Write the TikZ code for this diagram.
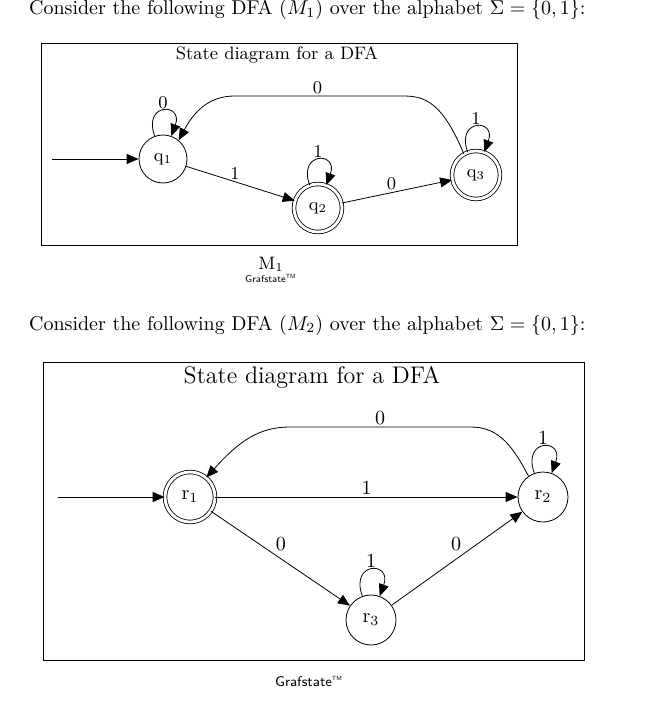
\documentclass[tikz,border=0pt]{standalone}
\usepackage{amsmath}
\usetikzlibrary{arrows.meta, positioning}

\begin{document}
\begin{tikzpicture}[x=0.5pt, y=-0.5pt,
	state/.style={circle, draw, thin, minimum size=24pt, inner sep=0pt, font=\small},
	bigstate/.style={state, minimum size=25pt, font=\normalsize},
	accept/.style={double, double distance=1.4pt},
	edge/.style={-{Triangle[length=6pt,width=5pt]}, thin},
	loopy/.style={out=110, in=70, looseness=5.5},
	lbl/.style={font=\small, inner sep=1pt},
	biglbl/.style={font=\normalsize, inner sep=1pt}]
	\useasboundingbox (0,0) rectangle (650,710);

	% first automaton
	\node[anchor=west] (text1) at (22,10) {Consider the following DFA ($M_1$) over the alphabet $\Sigma=\{0,1\}$:};
	\draw[thin] (41,43) rectangle (517,245);
	\node[font=\small] (title1) at (277,55) {State diagram for a DFA};

	\node[state] (q1) at (163,159) {$\mathrm{q}_1$};
	\node[state, accept] (q2) at (318,208) {$\mathrm{q}_2$};
	\node[state, accept] (q3) at (476,175) {$\mathrm{q}_3$};
	\coordinate (s1) at (52,159);

	\draw[edge] (s1) -- (q1);
	\draw[edge] (q1) -- node[lbl, above, pos=0.45] {1} (q2);
	\draw[edge] (q2) -- node[lbl, above, pos=0.45] {0} (q3);
	\draw[edge] (q1.110) to[loopy] node[lbl, above] {0} (q1.70);
	\draw[edge] (q2.110) to[loopy] node[lbl, above] {1} (q2.70);
	\draw[edge] (q3.110) to[loopy] node[lbl, above] {1} (q3.70);
	\draw[edge] (q3.120) .. controls (440,96) and (420,96) .. (400,96)
		-- node[lbl, above] {0} (235,96) .. controls (210,96) and (195,110) .. (q1.50);

	\node (m1) at (271,264) {\small M$_1$};
	\node[font=\tiny\sffamily] (graf1) at (271,278) {Grafstate\textsuperscript{\fontsize{3}{3}\selectfont TM}};

	% second automaton
	\node[anchor=west] (text2) at (22,325) {Consider the following DFA ($M_2$) over the alphabet $\Sigma=\{0,1\}$:};
	\draw[thin] (43,362) rectangle (584,660);
	\node[font=\large] (title2) at (312,377) {State diagram for a DFA};

	\node[bigstate, accept] (r1) at (190,497) {$\mathrm{r}_1$};
	\node[bigstate] (r2) at (543,497) {$\mathrm{r}_2$};
	\node[bigstate] (r3) at (371,620) {$\mathrm{r}_3$};
	\coordinate (s2) at (58,497);

	\draw[edge] (s2) -- (r1);
	\draw[edge] (r1) -- node[biglbl, above] {1} (r2);
	\draw[edge] (r1) -- node[biglbl, above right, pos=0.45] {0} (r3);
	\draw[edge] (r3) -- node[biglbl, above left, pos=0.55] {0} (r2);
	\draw[edge] (r3.110) to[loopy] node[biglbl, above] {1} (r3.70);
	\draw[edge] (r2.110) to[loopy] node[biglbl, above] {1} (r2.70);
	\draw[edge] (r2.125) .. controls (510,440) and (495,427) .. (470,427)
		-- node[biglbl, above] {0} (290,427) .. controls (260,427) and (240,440) .. (r1.50);

	\node[font=\scriptsize\sffamily] (graf2) at (309,681) {Grafstate\textsuperscript{\fontsize{3}{3}\selectfont TM}};
\end{tikzpicture}
\end{document}
